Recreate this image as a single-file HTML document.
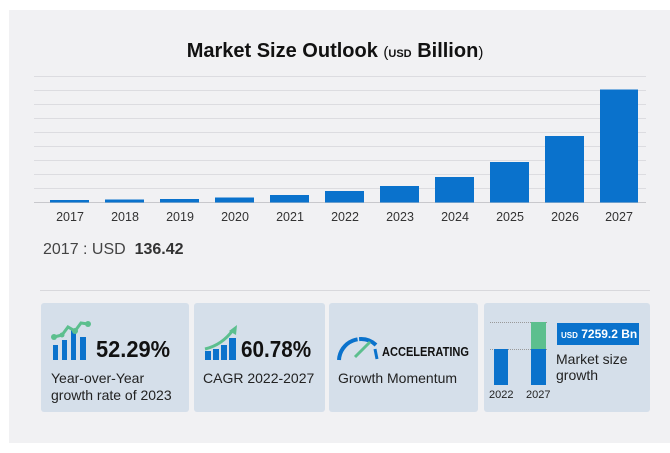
<!DOCTYPE html>
<html><head><meta charset="utf-8"><style>
html,body{margin:0;padding:0;background:#fff;}
body{width:670px;height:453px;position:relative;overflow:hidden;font-family:"Liberation Sans Narrow","Liberation Sans",sans-serif;}
.t{position:absolute;white-space:nowrap;color:#222;}
</style></head><body>
<svg width="670" height="453" style="position:absolute;left:0;top:0" xmlns="http://www.w3.org/2000/svg">
<rect x="9" y="10" width="661" height="433" fill="#f1f1f3"/>
<g stroke="#dcdce0" stroke-width="1">
<line x1="34" x2="646" y1="76.5" y2="76.5"/><line x1="34" x2="646" y1="90.5" y2="90.5"/>
<line x1="34" x2="646" y1="104.5" y2="104.5"/><line x1="34" x2="646" y1="118.5" y2="118.5"/>
<line x1="34" x2="646" y1="132.5" y2="132.5"/><line x1="34" x2="646" y1="146.5" y2="146.5"/>
<line x1="34" x2="646" y1="160.5" y2="160.5"/><line x1="34" x2="646" y1="174.5" y2="174.5"/>
<line x1="34" x2="646" y1="188.5" y2="188.5"/>
</g>
<line x1="34" x2="646" y1="202.5" y2="202.5" stroke="#c8c8cc"/>
<g fill="#0a72cc">
<rect x="50" y="200" width="39" height="2.5"/>
<rect x="105" y="199.5" width="39" height="3"/>
<rect x="160" y="199" width="39" height="3.5"/>
<rect x="215" y="197.5" width="39" height="5"/>
<rect x="270" y="195" width="39" height="7.5"/>
<rect x="325" y="191" width="39" height="11.5"/>
<rect x="380" y="186" width="39" height="16.5"/>
<rect x="435" y="177" width="39" height="25.5"/>
<rect x="490" y="162" width="39" height="40.5"/>
<rect x="545" y="136" width="39" height="66.5"/>
<rect x="600" y="89.5" width="38" height="113"/>
</g>
<g font-family="Liberation Sans Narrow, Liberation Sans, sans-serif" font-size="12.5" fill="#333" text-anchor="middle">
<text x="70" y="221">2017</text><text x="125" y="221">2018</text><text x="180" y="221">2019</text>
<text x="235" y="221">2020</text><text x="290" y="221">2021</text><text x="345" y="221">2022</text>
<text x="400" y="221">2023</text><text x="455" y="221">2024</text><text x="510" y="221">2025</text>
<text x="565" y="221">2026</text><text x="619" y="221">2027</text>
</g>
<line x1="40" x2="650" y1="290.5" y2="290.5" stroke="#d8d8dc"/>
<g fill="#d5dfea">
<rect x="41" y="303" width="148" height="109" rx="3"/>
<rect x="194" y="303" width="131" height="109" rx="3"/>
<rect x="329" y="303" width="149" height="109" rx="3"/>
<rect x="484" y="303" width="166" height="109" rx="3"/>
</g>
<!-- card1 icon -->
<g fill="#0a72cc"><rect x="53" y="345" width="5" height="15"/><rect x="62" y="340" width="5" height="20"/><rect x="71" y="330" width="5" height="30"/><rect x="80" y="337" width="6" height="23"/></g>
<polyline points="54,337 62,335 68,327 75,331 81,323 88,324" fill="none" stroke="#5cbf8e" stroke-width="3"/>
<circle cx="54" cy="337" r="3" fill="#5cbf8e"/><circle cx="62" cy="335" r="2.5" fill="#5cbf8e"/><circle cx="75" cy="331" r="3" fill="#5cbf8e"/><circle cx="88" cy="324" r="3" fill="#5cbf8e"/>
<!-- card2 icon -->
<g fill="#0a72cc"><rect x="205" y="351" width="6" height="9"/><rect x="213" y="349" width="6" height="11"/><rect x="221" y="345" width="6" height="15"/><rect x="229" y="338" width="7" height="22"/></g>
<path d="M205,349 Q222,345 233,330" fill="none" stroke="#5cbf8e" stroke-width="3"/>
<polygon points="229,331 237,325 236,335" fill="#5cbf8e"/>
<!-- card3 gauge -->
<path d="M339,360 A22,22 0 0 1 376,345" fill="none" stroke="#0a72cc" stroke-width="4" stroke-dasharray="30,1.5"/>
<line x1="355" y1="357" x2="370" y2="342" stroke="#5cbf8e" stroke-width="3"/>
<line x1="375" y1="349" x2="377" y2="359" stroke="#0a72cc" stroke-width="3"/>
<!-- card4 -->
<line x1="490" x2="548" y1="322.5" y2="322.5" stroke="#999" stroke-dasharray="1,1"/>
<line x1="490" x2="548" y1="349.5" y2="349.5" stroke="#999" stroke-dasharray="1,1"/>
<rect x="494" y="349" width="14" height="36" fill="#0a72cc"/>
<rect x="531" y="322" width="15" height="27" fill="#5cbf8e"/>
<rect x="531" y="349" width="15" height="36" fill="#0a72cc"/>
<rect x="557" y="323" width="82" height="22" fill="#0a72cc"/>
</svg>
<div class="t" style="left:0;width:670px;top:40px;text-align:center;font-size:20px;font-weight:bold;color:#111;">Market Size Outlook <span style="font-weight:normal;font-size:15px">(</span><span style="font-size:11px">USD</span> Billion<span style="font-weight:normal;font-size:15px">)</span></div>
<div class="t" style="left:43px;top:241px;font-size:16px;color:#444;">2017 : USD &nbsp;<b style="color:#333">136.42</b></div>
<div class="t" style="left:96px;top:336px;font-size:23px;font-weight:bold;color:#111;transform:scaleX(0.95);transform-origin:left;">52.29%</div>
<div class="t" style="left:51px;top:370px;font-size:14px;line-height:17px;">Year-over-Year<br>growth rate of 2023</div>
<div class="t" style="left:241px;top:336px;font-size:23px;font-weight:bold;color:#111;transform:scaleX(0.9);transform-origin:left;">60.78%</div>
<div class="t" style="left:203px;top:370px;font-size:14px;">CAGR 2022-2027</div>
<div class="t" style="left:382px;top:344px;font-size:13px;font-weight:bold;color:#111;transform:scaleX(0.85);transform-origin:left;">ACCELERATING</div>
<div class="t" style="left:338px;top:370px;font-size:14px;">Growth Momentum</div>
<div class="t" style="left:561px;top:327px;font-size:12px;font-weight:bold;color:#fff;"><span style="font-size:8px">USD</span> 7259.2 Bn</div>
<div class="t" style="left:556px;top:351px;font-size:14px;line-height:16px;">Market size<br>growth</div>
<div class="t" style="left:489px;top:389px;font-size:11px;">2022</div>
<div class="t" style="left:526px;top:389px;font-size:11px;">2027</div>
</body></html>
